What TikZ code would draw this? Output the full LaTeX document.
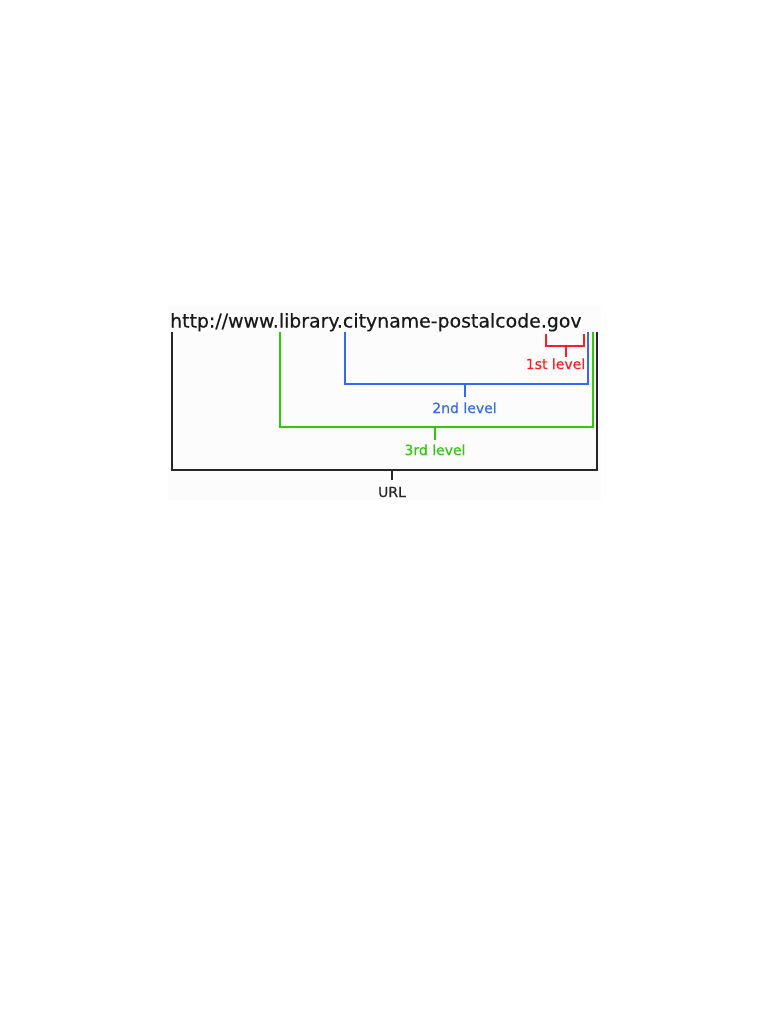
\documentclass[tikz,border=0pt]{standalone}
\usepackage{fontspec}
\setmainfont{DejaVu Sans}[FakeBold=0.35]
\definecolor{lvred}{RGB}{255,30,30}
\definecolor{lvblue}{RGB}{55,105,240}
\definecolor{lvgreen}{RGB}{50,200,10}
\begin{document}
\begin{tikzpicture}[x=1pt,y=-1pt,
  bracket/.style={line width=2pt,line join=miter,line cap=butt},
  lbl/.style={inner sep=0pt,anchor=base,font=\fontsize{14}{16}\selectfont}]
\useasboundingbox (0,0) rectangle (768,1024);
\fill[black!1] (168,306) rectangle (601,500);
\node[inner sep=0pt,anchor=base west,text=black!90,font=\fontsize{18.9}{22}\selectfont] (url) at (170,327.5) {http://www.library.cityname-postalcode.gov};
% black URL bracket
\coordinate (kL) at (172,332);
\coordinate (kR) at (597,332);
\coordinate (kT) at (392,470);
\coordinate (kE) at (392,480);
\node[lbl,text=black!85] (kl) at (392,497) {URL};
\draw[bracket,black!85] (kL) -- (kL |- kT) -- (kR |- kT) -- (kR);
\draw[bracket,black!85] (kT) -- (kE);
% green
\coordinate (gL) at (280,332);
\coordinate (gR) at (593,332);
\coordinate (gT) at (435,427);
\coordinate (gE) at (435,440);
\node[lbl,text=lvgreen] (gl) at (435,455) {3rd level};
\draw[bracket,lvgreen] (gL) -- (gL |- gT) -- (gR |- gT) -- (gR);
\draw[bracket,lvgreen] (gT) -- (gE);
% blue
\coordinate (bL) at (345,332);
\coordinate (bR) at (588,332);
\coordinate (bT) at (465,384);
\coordinate (bE) at (465,397);
\node[lbl,text=lvblue] (bl) at (464.5,413) {2nd level};
\draw[bracket,lvblue] (bL) -- (bL |- bT) -- (bR |- bT) -- (bR);
\draw[bracket,lvblue] (bT) -- (bE);
% red
\coordinate (rL) at (546,334);
\coordinate (rR) at (584,334);
\coordinate (rT) at (566,345.5);
\coordinate (rE) at (566,357);
\node[lbl,text=lvred] (rl) at (555.5,369) {1st level};
\draw[bracket,lvred] (rL) -- (rL |- rT) -- (rR |- rT) -- (rR);
\draw[bracket,lvred] (rT) -- (rE);
\end{tikzpicture}
\end{document}
